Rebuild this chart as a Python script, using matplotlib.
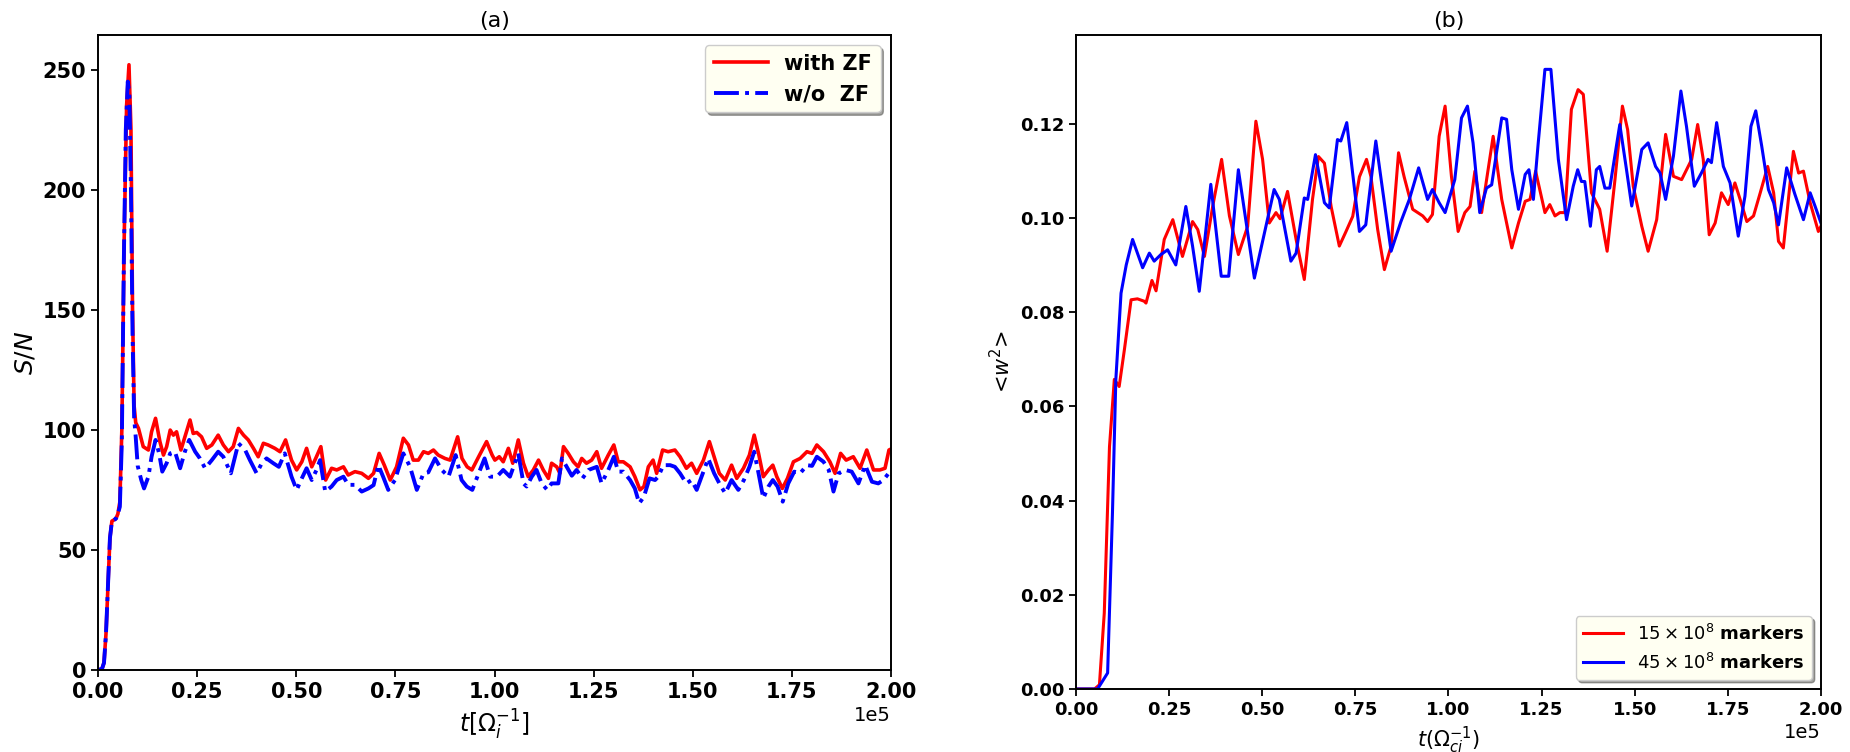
import matplotlib
matplotlib.use("Agg")
import matplotlib.pyplot as plt
import numpy as np

# ---------------- panel (a) data : t in units of 1e5 ----------------
t_zf = [0.0, 0.010, 0.015, 0.020, 0.025, 0.030, 0.035, 0.045, 0.050, 0.055, 0.060, 0.066, 0.072,
        0.078, 0.083, 0.087, 0.091, 0.095, 0.102, 0.114, 0.127, 0.135, 0.145, 0.156, 0.165, 0.173,
        0.182, 0.190, 0.198, 0.209, 0.219, 0.232, 0.240, 0.249, 0.261, 0.274, 0.287, 0.303, 0.316,
        0.329, 0.341, 0.354, 0.367, 0.379, 0.392, 0.404, 0.417, 0.429, 0.446, 0.459, 0.473, 0.488,
        0.501, 0.514, 0.526, 0.539, 0.549, 0.562, 0.574, 0.589, 0.602, 0.619, 0.631, 0.648, 0.665,
        0.682, 0.695, 0.709, 0.722, 0.737, 0.753, 0.770, 0.783, 0.795, 0.808, 0.821, 0.833, 0.846,
        0.858, 0.875, 0.888, 0.907, 0.918, 0.931, 0.943, 0.960, 0.980, 0.994, 1.001, 1.012, 1.022,
        1.035, 1.046, 1.060, 1.073, 1.085, 1.098, 1.111, 1.123, 1.136, 1.144, 1.157, 1.165, 1.174,
        1.186, 1.199, 1.211, 1.220, 1.232, 1.245, 1.258, 1.270, 1.287, 1.301, 1.312, 1.325, 1.342,
        1.354, 1.367, 1.377, 1.388, 1.400, 1.409, 1.424, 1.438, 1.455, 1.468, 1.484, 1.497, 1.510,
        1.527, 1.542, 1.554, 1.567, 1.582, 1.598, 1.611, 1.628, 1.643, 1.655, 1.666, 1.678, 1.691,
        1.702, 1.712, 1.726, 1.739, 1.754, 1.771, 1.788, 1.801, 1.813, 1.830, 1.846, 1.859, 1.873,
        1.887, 1.905, 1.922, 1.939, 1.956, 1.972, 1.985, 1.995, 2.000]
sn_zf = [0.0, 0.5, 3, 15, 35, 55, 62, 63, 65, 70, 100, 180, 235,
         252, 225, 150, 110, 103, 100.6, 93.0, 91.6, 99.2, 104.8, 95.1, 89.5, 93.0,
         99.9, 97.8, 99.2, 91.6, 97.1, 104.1, 98.5, 98.9, 97.1, 92.3, 93.7, 97.8, 93.7,
         90.9, 93.0, 100.6, 97.8, 95.8, 92.3, 88.8, 94.4, 93.7, 92.3, 90.9, 95.8, 87.4,
         83.3, 86.7, 92.3, 84.6, 88.1, 93.0, 79.1, 84.0, 83.3, 84.6, 81.2, 82.6, 81.9,
         79.8, 81.9, 90.2, 85.3, 79.1, 84.6, 96.5, 93.7, 87.4, 87.4, 90.9, 90.2, 91.6,
         89.5, 88.1, 87.4, 97.1, 88.1, 84.6, 83.3, 88.8, 95.1, 89.5, 87.4, 88.8, 86.7,
         92.3, 86.1, 95.8, 86.1, 80.5, 83.3, 87.4, 83.3, 79.8, 86.1, 84.6, 81.9, 93.0,
         90.2, 86.7, 84.6, 88.1, 86.1, 87.4, 90.9, 84.0, 89.5, 93.7, 86.7, 86.7, 84.6,
         80.5, 75.0, 76.4, 84.6, 87.4, 81.9, 91.6, 90.9, 91.6, 88.8, 84.0, 86.1, 81.9,
         87.4, 95.1, 88.8, 81.9, 79.1, 85.3, 79.8, 84.0, 89.5, 97.8, 90.2, 80.5, 83.3,
         85.3, 80.5, 75.6, 79.8, 86.7, 88.1, 90.9, 90.2, 93.7, 90.9, 86.7, 81.9, 90.2,
         87.4, 88.8, 84.0, 91.6, 83.3, 83.3, 84.0, 91.6, 92.0]

t_nozf = [0.0, 0.010, 0.015, 0.020, 0.025, 0.030, 0.035, 0.045, 0.050, 0.055, 0.060, 0.065, 0.070,
          0.075, 0.079, 0.083, 0.087, 0.091, 0.095, 0.100, 0.109, 0.116, 0.127, 0.135, 0.145, 0.154,
          0.162, 0.173, 0.182, 0.194, 0.207, 0.219, 0.230, 0.245, 0.257, 0.270, 0.287, 0.303, 0.316,
          0.335, 0.354, 0.371, 0.383, 0.400, 0.413, 0.425, 0.442, 0.456, 0.471, 0.488, 0.501, 0.514,
          0.526, 0.539, 0.551, 0.560, 0.573, 0.589, 0.602, 0.619, 0.631, 0.648, 0.665, 0.682, 0.695,
          0.707, 0.719, 0.732, 0.749, 0.770, 0.787, 0.804, 0.821, 0.833, 0.850, 0.867, 0.884, 0.902,
          0.917, 0.930, 0.944, 0.960, 0.975, 0.989, 1.006, 1.022, 1.039, 1.060, 1.073, 1.081, 1.094,
          1.106, 1.119, 1.133, 1.144, 1.161, 1.170, 1.182, 1.195, 1.207, 1.222, 1.237, 1.258, 1.270,
          1.287, 1.301, 1.312, 1.325, 1.342, 1.354, 1.365, 1.377, 1.391, 1.405, 1.413, 1.426, 1.443,
          1.455, 1.468, 1.484, 1.497, 1.510, 1.527, 1.539, 1.554, 1.569, 1.582, 1.598, 1.615, 1.629,
          1.643, 1.655, 1.666, 1.678, 1.691, 1.702, 1.714, 1.727, 1.741, 1.756, 1.771, 1.788, 1.801,
          1.813, 1.830, 1.843, 1.855, 1.868, 1.885, 1.901, 1.918, 1.935, 1.952, 1.968, 1.981, 1.994,
          2.000]
sn_nozf = [0.0, 0.5, 3, 15, 35, 55, 62, 63, 65, 68, 95, 170, 225,
           245, 240, 200, 140, 105, 97, 85, 79.1, 75.6, 80.5, 88.8, 95.8, 90.2,
           82.6, 86.1, 90.2, 90.9, 84.0, 90.9, 95.8, 90.9, 88.1, 84.0, 87.4, 90.9, 88.8,
           81.9, 94.4, 91.6, 87.4, 81.9, 86.1, 88.1, 86.1, 84.6, 90.2, 80.5, 75.0, 79.8,
           84.0, 79.1, 83.3, 87.4, 74.3, 76.4, 79.1, 80.5, 77.1, 77.1, 74.3, 75.6, 77.0,
           85.3, 80.5, 75.0, 79.1, 90.2, 84.6, 75.0, 81.9, 82.3, 88.1, 83.3, 80.5, 89.5,
           79.1, 76.4, 75.0, 81.9, 88.1, 80.5, 80.5, 83.3, 80.5, 90.2, 77.7, 76.4, 80.5,
           83.3, 77.7, 75.0, 77.7, 77.7, 88.1, 84.6, 80.9, 83.3, 79.8, 83.3, 84.6, 77.7,
           83.3, 88.8, 82.6, 82.6, 79.1, 75.6, 69.4, 72.2, 79.8, 79.1, 80.5, 85.3, 85.3,
           84.6, 81.9, 77.7, 79.1, 75.0, 82.6, 88.1, 81.9, 77.1, 73.6, 79.1, 75.0, 79.1,
           84.6, 90.9, 81.9, 71.5, 76.4, 79.1, 76.4, 70.1, 77.7, 82.6, 81.9, 85.3, 85.0,
           88.8, 86.7, 83.3, 74.3, 81.9, 83.3, 82.6, 77.7, 85.3, 78.4, 77.7, 79.1, 81.9,
           82.0]

# ---------------- panel (b) data : t in units of 1e5 ----------------
t_15 = [0.0, 0.050, 0.063, 0.076, 0.090, 0.103, 0.116, 0.130, 0.148, 0.165, 0.183, 0.188, 0.204,
        0.215, 0.237, 0.260, 0.286, 0.313, 0.327, 0.345, 0.367, 0.391, 0.412, 0.436, 0.461, 0.483,
        0.501, 0.519, 0.537, 0.548, 0.568, 0.591, 0.613, 0.635, 0.651, 0.667, 0.685, 0.707, 0.725,
        0.743, 0.761, 0.780, 0.792, 0.810, 0.828, 0.846, 0.866, 0.881, 0.904, 0.931, 0.944, 0.957,
        0.975, 0.991, 1.008, 1.026, 1.044, 1.058, 1.071, 1.089, 1.120, 1.143, 1.170, 1.188, 1.206,
        1.219, 1.234, 1.259, 1.272, 1.286, 1.299, 1.313, 1.330, 1.348, 1.362, 1.384, 1.406, 1.426,
        1.447, 1.467, 1.481, 1.496, 1.519, 1.536, 1.559, 1.583, 1.604, 1.626, 1.653, 1.669, 1.684,
        1.700, 1.716, 1.733, 1.751, 1.769, 1.783, 1.801, 1.819, 1.837, 1.857, 1.873, 1.886, 1.899,
        1.926, 1.940, 1.953, 1.971, 1.993, 2.000]
w_15 = [0.0, 0.0, 0.0009, 0.0161, 0.0514, 0.0657, 0.0642, 0.0720, 0.0826, 0.0828, 0.0823, 0.0819, 0.0867,
        0.0845, 0.0954, 0.0996, 0.0918, 0.0992, 0.0975, 0.0918, 0.1024, 0.1124, 0.1004, 0.0922, 0.0982, 0.1205,
        0.1124, 0.0989, 0.1011, 0.0998, 0.1056, 0.0954, 0.0869, 0.1039, 0.1130, 0.1116, 0.1024, 0.0940, 0.0971,
        0.1003, 0.1087, 0.1124, 0.1087, 0.0975, 0.0890, 0.0940, 0.1138, 0.1087, 0.1018, 0.1004, 0.0992, 0.1007,
        0.1173, 0.1237, 0.1088, 0.0971, 0.1011, 0.1024, 0.1099, 0.1011, 0.1173, 0.1039, 0.0936, 0.0989, 0.1035,
        0.1039, 0.1099, 0.1011, 0.1028, 0.1004, 0.1011, 0.1011, 0.1230, 0.1272, 0.1262, 0.1053, 0.1018, 0.0929,
        0.1081, 0.1237, 0.1187, 0.1067, 0.0982, 0.0929, 0.0996, 0.1177, 0.1088, 0.1081, 0.1124, 0.1198, 0.1124,
        0.0964, 0.0989, 0.1053, 0.1028, 0.1074, 0.1039, 0.0992, 0.1004, 0.1053, 0.1109, 0.1053, 0.0950, 0.0936,
        0.1141, 0.1095, 0.1099, 0.1032, 0.0971, 0.0982]

t_45 = [0.0, 0.058, 0.070, 0.085, 0.098, 0.107, 0.121, 0.135, 0.152, 0.165, 0.179, 0.197, 0.210,
        0.228, 0.246, 0.268, 0.295, 0.313, 0.331, 0.362, 0.390, 0.410, 0.436, 0.479, 0.532, 0.546,
        0.577, 0.591, 0.613, 0.622, 0.643, 0.667, 0.680, 0.702, 0.711, 0.727, 0.761, 0.778, 0.805,
        0.846, 0.872, 0.895, 0.920, 0.944, 0.957, 0.975, 0.991, 1.017, 1.035, 1.051, 1.066, 1.084,
        1.102, 1.116, 1.129, 1.143, 1.156, 1.170, 1.188, 1.206, 1.216, 1.228, 1.241, 1.259, 1.275,
        1.295, 1.317, 1.335, 1.347, 1.357, 1.366, 1.381, 1.397, 1.406, 1.420, 1.433, 1.460, 1.478,
        1.492, 1.519, 1.536, 1.556, 1.568, 1.583, 1.604, 1.624, 1.639, 1.660, 1.679, 1.697, 1.706,
        1.720, 1.738, 1.756, 1.778, 1.796, 1.812, 1.825, 1.841, 1.859, 1.873, 1.886, 1.908, 1.930,
        1.953, 1.971, 1.984, 2.000]
w_45 = [0.0, 0.0, 0.0015, 0.0034, 0.0374, 0.0656, 0.0840, 0.0900, 0.0954, 0.0925, 0.0894, 0.0925, 0.0908,
        0.0922, 0.0932, 0.0900, 0.1024, 0.0940, 0.0844, 0.1071, 0.0876, 0.0876, 0.1102, 0.0872, 0.1060, 0.1039,
        0.0908, 0.0925, 0.1042, 0.1039, 0.1134, 0.1032, 0.1021, 0.1166, 0.1163, 0.1202, 0.0971, 0.0985, 0.1163,
        0.0929, 0.0991, 0.1039, 0.1106, 0.1039, 0.1060, 0.1032, 0.1011, 0.1081, 0.1212, 0.1237, 0.1159, 0.1011,
        0.1063, 0.1070, 0.1138, 0.1212, 0.1209, 0.1102, 0.1018, 0.1092, 0.1102, 0.1039, 0.1159, 0.1315, 0.1315,
        0.1124, 0.0996, 0.1067, 0.1102, 0.1077, 0.1077, 0.0982, 0.1102, 0.1109, 0.1063, 0.1063, 0.1198, 0.1102,
        0.1025, 0.1145, 0.1159, 0.1109, 0.1095, 0.1039, 0.1131, 0.1269, 0.1194, 0.1067, 0.1095, 0.1124, 0.1117,
        0.1202, 0.1109, 0.1074, 0.0961, 0.1046, 0.1194, 0.1227, 0.1152, 0.1060, 0.1032, 0.0985, 0.1106, 0.1050,
        0.0996, 0.1053, 0.1025, 0.0989]

SCALE = 1e5

fig = plt.figure(figsize=(18.5, 7.52), dpi=100)
ax1 = fig.add_axes([0.053, 0.109, 0.4286, 0.8445])
ax2 = fig.add_axes([0.5816, 0.0838, 0.4027, 0.8697])

# ---- panel (a)
ax1.plot(np.array(t_zf) * SCALE, sn_zf, color='red', lw=2.6, ls='-', label='with ZF')
ax1.plot(np.array(t_nozf) * SCALE, sn_nozf, color='blue', lw=2.8, ls='-.', label='w/o  ZF')
ax1.set_xlim(0, 2e5)
ax1.set_ylim(0, 264.4)
ax1.set_xticks(np.arange(0, 2.01e5, 0.25e5))
ax1.set_yticks([0, 50, 100, 150, 200, 250])
ax1.set_title('(a)', fontsize=16)
ax1.set_xlabel(r'$t[\Omega_i^{-1}]$', fontsize=17)
ax1.set_ylabel(r'$S/N$', fontsize=18)
ax1.legend(loc='upper right', shadow=True, fancybox=True, framealpha=1,
           facecolor='#fffff2', edgecolor='#cccccc',
           prop={'weight': 'bold', 'size': 15}, handlelength=2.6)

# ---- panel (b)
ax2.plot(np.array(t_15) * SCALE, w_15, color='red', lw=2.2, label=r'$15\times10^8$ markers')
ax2.plot(np.array(t_45) * SCALE, w_45, color='blue', lw=2.2, label=r'$45\times10^8$ markers')
ax2.set_xlim(0, 2e5)
ax2.set_ylim(0, 0.1388)
ax2.set_xticks(np.arange(0, 2.01e5, 0.25e5))
ax2.set_yticks([0.0, 0.02, 0.04, 0.06, 0.08, 0.10, 0.12])
ax2.set_title('(b)', fontsize=16)
ax2.set_xlabel(r'$t(\Omega_{ci}^{-1})$', fontsize=15)
ax2.set_ylabel(r'<$w^2$>', fontsize=15)
ax2.legend(loc='lower right', shadow=True, fancybox=True, framealpha=1,
           facecolor='#fffff2', edgecolor='#cccccc',
           prop={'weight': 'bold', 'size': 13}, handlelength=2.2)

for ax in (ax1, ax2):
    ax.ticklabel_format(style='sci', axis='x', scilimits=(0, 0))
    ax.xaxis.get_offset_text().set_fontsize(14)
    ax.tick_params(labelsize=15, width=1.3, length=5)
    for sp in ax.spines.values():
        sp.set_linewidth(1.4)
ax2.tick_params(labelsize=13)
ax2.yaxis.set_major_formatter(matplotlib.ticker.FormatStrFormatter('%.2f'))
for ax in (ax1, ax2):
    for lab in ax.get_xticklabels() + ax.get_yticklabels():
        lab.set_fontweight('bold')

fig.savefig('out.png', dpi=100)
